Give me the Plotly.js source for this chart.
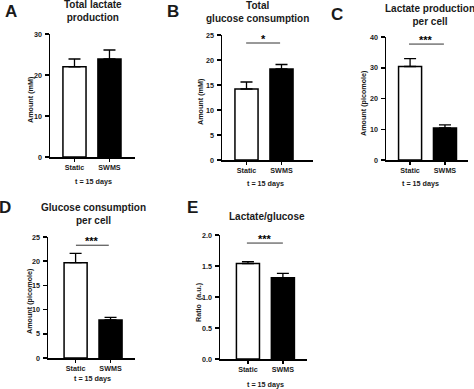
<!DOCTYPE html>
<html><head><meta charset="utf-8">
<script src="https://cdn.plot.ly/plotly-3.0.1.min.js"></script>
<style>html,body{margin:0;padding:0;background:#fff}#chart{width:474px;height:389px}</style>
</head><body><div id="chart"></div>
<script>
// ---- data ----
const categories = ['Static', 'SWMS'];
const panelLetters = ['A', 'B', 'C', 'D', 'E'];
const panelTitles = ['Total lactate<br>production', 'Total<br>glucose consumption', 'Lactate production<br>per cell', 'Glucose consumption<br>per cell', 'Lactate/glucose'];
const yTitles = ['Amount (mM)', 'Amount (mM)', 'Amount (picomole)', 'Amount (picomole)', 'Ratio  (a.u.)'];
const xTitle = 't = 15 days';
const meansA = [22.0, 23.9];   const errA = [1.9, 2.2];
const meansB = [14.2, 18.2];   const errB = [1.4, 0.9];
const meansC = [30.4, 10.4];   const errC = [2.6, 1.0];
const meansD = [19.7, 7.85];   const errD = [1.9, 0.55];
const meansE = [1.54, 1.31];   const errE = [0.03, 0.07];
const yMax = [30, 25, 40, 25, 2.0];
const yDtick = [10, 5, 10, 5, 0.5];
const sigLabels = ['', '*', '***', '***', '***'];
const sigLevel = [null, 23.4, 37.7, 23.3, 1.87];

const means = [meansA, meansB, meansC, meansD, meansE];
const errs = [errA, errB, errC, errD, errE];

// ---- layout geometry (pixels) ----
const W = 474, H = 389;
const px = x => x / W, py = y => 1 - y / H;
const geo = [
  {x0: 50, x1: 135, y0: 34, y1: 157, xr: [-0.7, 1.73], letter: [11, 12], title: [93, 11], ytl: [30, 100], xt: [93, 182], sig: [-0.02, 0.97]},
  {x0: 222, x1: 313, y0: 35, y1: 160, xr: [-0.7, 1.9], letter: [173, 12], title: [257, 12], ytl: [201, 102], xt: [265, 183], sig: [-0.01, 0.96]},
  {x0: 386, x1: 468, y0: 37, y1: 160, xr: [-0.69, 1.66], letter: [337, 14], title: [430, 15], ytl: [363, 103], xt: [420, 183], sig: [-0.03, 0.97]},
  {x0: 48, x1: 135, y0: 237, y1: 358, xr: [-0.79, 1.7], letter: [5, 208], title: [93, 214], ytl: [29, 301], xt: [92, 378], sig: [0.01, 0.95]},
  {x0: 220, x1: 307, y0: 235, y1: 359, xr: [-0.8, 1.69], letter: [192, 207], title: [267, 217], ytl: [198, 302], xt: [265, 384], sig: [-0.03, 1.0]}
];

const FONT = 'Liberation Sans, Arial, Helvetica, sans-serif';
const TXT = '#1a1a1a';
const traces = [];
const layout = {
  width: W, height: H, margin: {l: 0, r: 0, t: 0, b: 0},
  paper_bgcolor: '#fff', plot_bgcolor: 'rgba(0,0,0,0)',
  showlegend: false, annotations: [], shapes: [],
  font: {family: FONT, color: TXT, weight: 'bold'}
};

geo.forEach((g, i) => {
  const n = i === 0 ? '' : String(i + 1);
  traces.push({
    type: 'bar', x: categories, y: means[i], xaxis: 'x' + n, yaxis: 'y' + n,
    width: 0.66,
    marker: {color: ['#ffffff', '#000000'], line: {color: '#000', width: 1.5}},
    error_y: {type: 'data', symmetric: false, array: errs[i], arrayminus: [0, 0], color: '#000', thickness: 1.3, width: 6},
    hoverinfo: 'none'
  });
  layout['xaxis' + n] = {
    domain: [px(g.x0), px(g.x1)], anchor: 'y' + n, type: 'category', range: g.xr,
    showline: true, linecolor: '#000', linewidth: 1.5, ticks: 'outside', ticklen: 3, tickwidth: 1.5, tickcolor: '#000',
    showgrid: false, zeroline: false, fixedrange: true,
    tickfont: {family: FONT, size: 7.2, color: TXT, weight: 'bold'}
  };
  layout['yaxis' + n] = {
    domain: [py(g.y1), py(g.y0)], anchor: 'x' + n, range: [0, yMax[i]], dtick: yDtick[i], tick0: 0,
    tickformat: i === 4 ? '.1f' : 'd',
    showline: true, linecolor: '#000', linewidth: 1.5, ticks: 'outside', ticklen: 4, tickwidth: 1.5, tickcolor: '#000',
    showgrid: false, zeroline: false, fixedrange: true, ticklabelstandoff: 1,
    tickfont: {family: FONT, size: 7.2, color: TXT, weight: 'bold'}
  };
  const ann = layout.annotations;
  ann.push({xref: 'paper', yref: 'paper', x: px(g.letter[0]), y: py(g.letter[1]), xanchor: 'center', yanchor: 'middle',
    text: panelLetters[i], showarrow: false, font: {family: FONT, size: 17, color: TXT, weight: 'bold'}});
  ann.push({xref: 'paper', yref: 'paper', x: px(g.title[0]), y: py(g.title[1]), xanchor: 'center', yanchor: 'middle',
    text: panelTitles[i], showarrow: false, font: {family: FONT, size: 10, color: TXT, weight: 'bold'}});
  ann.push({xref: 'paper', yref: 'paper', x: px(g.ytl[0]), y: py(g.ytl[1]), xanchor: 'center', yanchor: 'middle', textangle: -90,
    text: yTitles[i], showarrow: false, font: {family: FONT, size: 7.2, color: TXT, weight: 'bold'}});
  ann.push({xref: 'paper', yref: 'paper', x: px(g.xt[0]), y: py(g.xt[1]), xanchor: 'center', yanchor: 'middle',
    text: xTitle, showarrow: false, font: {family: FONT, size: 7.2, color: TXT, weight: 'bold'}});
  if (sigLabels[i]) {
    layout.shapes.push({type: 'line', xref: 'x' + n, yref: 'y' + n, x0: g.sig[0], x1: g.sig[1], y0: sigLevel[i], y1: sigLevel[i],
      line: {color: '#333', width: 1}});
    ann.push({xref: 'x' + n, yref: 'y' + n, x: (g.sig[0] + g.sig[1]) / 2, y: sigLevel[i], xanchor: 'center', yanchor: 'bottom',
      yshift: -4, text: sigLabels[i], showarrow: false, font: {family: FONT, size: 11, color: '#000', weight: 'bold'}});
  }
});

Plotly.newPlot('chart', traces, layout, {staticPlot: true, displayModeBar: false});
</script>
</body></html>
